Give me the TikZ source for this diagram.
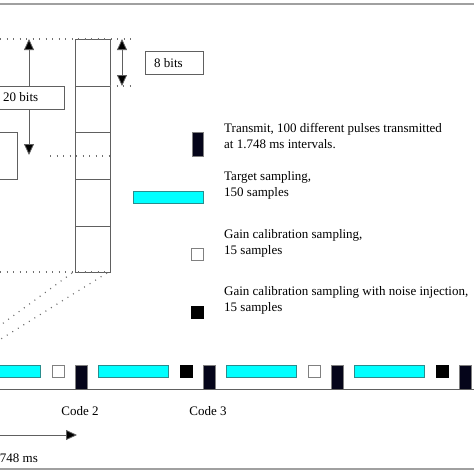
\documentclass[tikz,border=0pt]{standalone}
\usepackage{fontspec}
\setmainfont{Liberation Serif}
\usetikzlibrary{arrows.meta}
\definecolor{framegray}{HTML}{A0A0A0}
\definecolor{linegray}{HTML}{606060}
\definecolor{dotgray}{HTML}{707070}
\definecolor{navyfill}{HTML}{05051A}
\definecolor{cyanfill}{HTML}{00FFFF}
\definecolor{cyanedge}{HTML}{2A8C8C}
\begin{document}
\begin{tikzpicture}[x=1pt,y=-1pt,
  txt/.style={font=\fontsize{13}{15.5}\selectfont, inner sep=0pt, anchor=base west, align=left},
  ctxt/.style={font=\fontsize{13}{15.5}\selectfont, inner sep=0pt, anchor=base},
  boxed/.style={draw=linegray, line width=0.8pt, fill=white},
  colline/.style={draw=linegray, line width=0.8pt},
  dimarrow/.style={draw=linegray, line width=0.8pt, {Triangle[length=11pt,width=10pt,fill=black]}-{Triangle[length=11pt,width=10pt,fill=black]}},
  timearrow/.style={draw=linegray, line width=0.8pt, -{Triangle[length=11pt,width=10pt,fill=black]}},
  dotline/.style={draw=dotgray, line width=1.2pt, dash pattern=on 1pt off 5.5pt},
  framel/.style={draw=framegray, line width=1.5pt},
  xmit/.style={draw=gray, fill=navyfill, line width=0.6pt, inner sep=0pt, minimum width=11pt, minimum height=24pt, anchor=north west},
  tgt/.style={draw=cyanedge, fill=cyanfill, line width=0.6pt, inner sep=0pt, minimum width=70pt, minimum height=12pt, anchor=north west},
  gaincal/.style={draw=gray, fill=white, line width=0.6pt, inner sep=0pt, minimum width=12pt, minimum height=12pt, anchor=north west},
  gainnoise/.style={draw=black, fill=black, line width=0.6pt, inner sep=0pt, minimum width=12pt, minimum height=12pt, anchor=north west}]
\useasboundingbox (0,0) rectangle (474,474);
\clip (0,0) rectangle (474,474);

% frame
\coordinate (ftl) at (0,4); \coordinate (ftr) at (474,4);
\coordinate (fbl) at (0,469); \coordinate (fbr) at (474,469);
\draw[framel] (ftl) -- (ftr);
\draw[framel] (fbl) -- (fbr);

% column of cells
\coordinate (c0l) at (75,39);  \coordinate (c0r) at (110,39);
\coordinate (c1l) at (75,86);  \coordinate (c1r) at (110,86);
\coordinate (c2l) at (75,132); \coordinate (c2r) at (110,132);
\coordinate (c3l) at (75,179); \coordinate (c3r) at (110,179);
\coordinate (c4l) at (75,226); \coordinate (c4r) at (110,226);
\coordinate (c5l) at (75,272); \coordinate (c5r) at (110,272);
\draw[colline] (c0l) -- (c0r) -- (c5r) -- (c5l) -- cycle;
\draw[colline] (c1l) -- (c1r);
\draw[colline] (c2l) -- (c2r);
\draw[colline] (c3l) -- (c3r);
\draw[colline] (c4l) -- (c4r);

% dotted guide lines
\coordinate (d1a) at (0,39);   \coordinate (d1b) at (133,39);
\coordinate (d2a) at (110,86); \coordinate (d2b) at (132,86);
\coordinate (d3a) at (50,156); \coordinate (d3b) at (110,156);
\coordinate (d4a) at (0,272);  \coordinate (d4b) at (110,272);
\coordinate (g1a) at (72,273); \coordinate (g1b) at (-20,340);
\coordinate (g2a) at (107,273); \coordinate (g2b) at (-20,352);
\draw[dotline] (d1a) -- (d1b);
\draw[dotline] (d2a) -- (d2b);
\draw[dotline] (d3a) -- (d3b);
\draw[dotline] (d4a) -- (d4b);
\draw[dotline] (g1a) -- (g1b);
\draw[dotline] (g2a) -- (g2b);

% 20 bits dimension
\coordinate (a20t) at (29,39); \coordinate (a20b) at (29,155);
\draw[dimarrow] (a20t) -- (a20b);
\node[boxed, anchor=north west, minimum width=84pt, minimum height=23pt, inner sep=0pt] (box20) at (-20,86) {};
\node[txt] (lab20) at (3,101) {20 bits};
\node[boxed, anchor=north west, minimum width=37pt, minimum height=47pt, inner sep=0pt] (leftbox) at (-20,132) {};

% 8 bits dimension
\coordinate (a8t) at (122,39); \coordinate (a8b) at (122,86);
\draw[dimarrow] (a8t) -- (a8b);
\node[boxed, anchor=north west, minimum width=58pt, minimum height=23pt, inner sep=0pt] (box8) at (145,51) {};
\node[txt] (lab8) at (154,67) {8 bits};

% legend
\node[xmit] (lgx) at (192,132) {};
\node[txt] (lgxt) at (224,148) {Transmit, 100 different pulses transmitted\\at 1.748 ms intervals.};
\node[tgt] (lgt) at (133,191) {};
\node[txt] (lgtt) at (224,196) {Target sampling,\\150 samples};
\node[gaincal] (lgg) at (191,248) {};
\node[txt] (lggt) at (224,254) {Gain calibration sampling,\\15 samples};
\node[gainnoise] (lgn) at (191,306) {};
\node[txt] (lgnt) at (224,311) {Gain calibration sampling with noise injection,\\15 samples};

% time line
\coordinate (tl0) at (0,389); \coordinate (tl1) at (474,389);
\node[tgt] (s0) at (-30,365) {};
\node[gaincal] (q0) at (52,365) {};
\node[xmit, minimum width=12pt] (x1) at (75,365) {};
\node[tgt] (s1) at (98,365) {};
\node[gainnoise] (q1) at (180,365) {};
\node[xmit, minimum width=12pt] (x2) at (203,365) {};
\node[tgt] (s2) at (226,365) {};
\node[gaincal] (q2) at (308,365) {};
\node[xmit, minimum width=12pt] (x3) at (331,365) {};
\node[tgt] (s3) at (354,365) {};
\node[gainnoise] (q3) at (436,365) {};
\node[xmit, minimum width=12pt] (x4) at (459,365) {};
\draw[draw=linegray, line width=0.8pt] (tl0) -- (tl1);

\node[ctxt] (code2) at (80,415) {Code 2};
\node[ctxt] (code3) at (208,415) {Code 3};

\coordinate (ta0) at (-5,435); \coordinate (ta1) at (77,435);
\draw[timearrow] (ta0) -- (ta1);
\node[txt] (period) at (-10,462) {1.748 ms};
\end{tikzpicture}
\end{document}
